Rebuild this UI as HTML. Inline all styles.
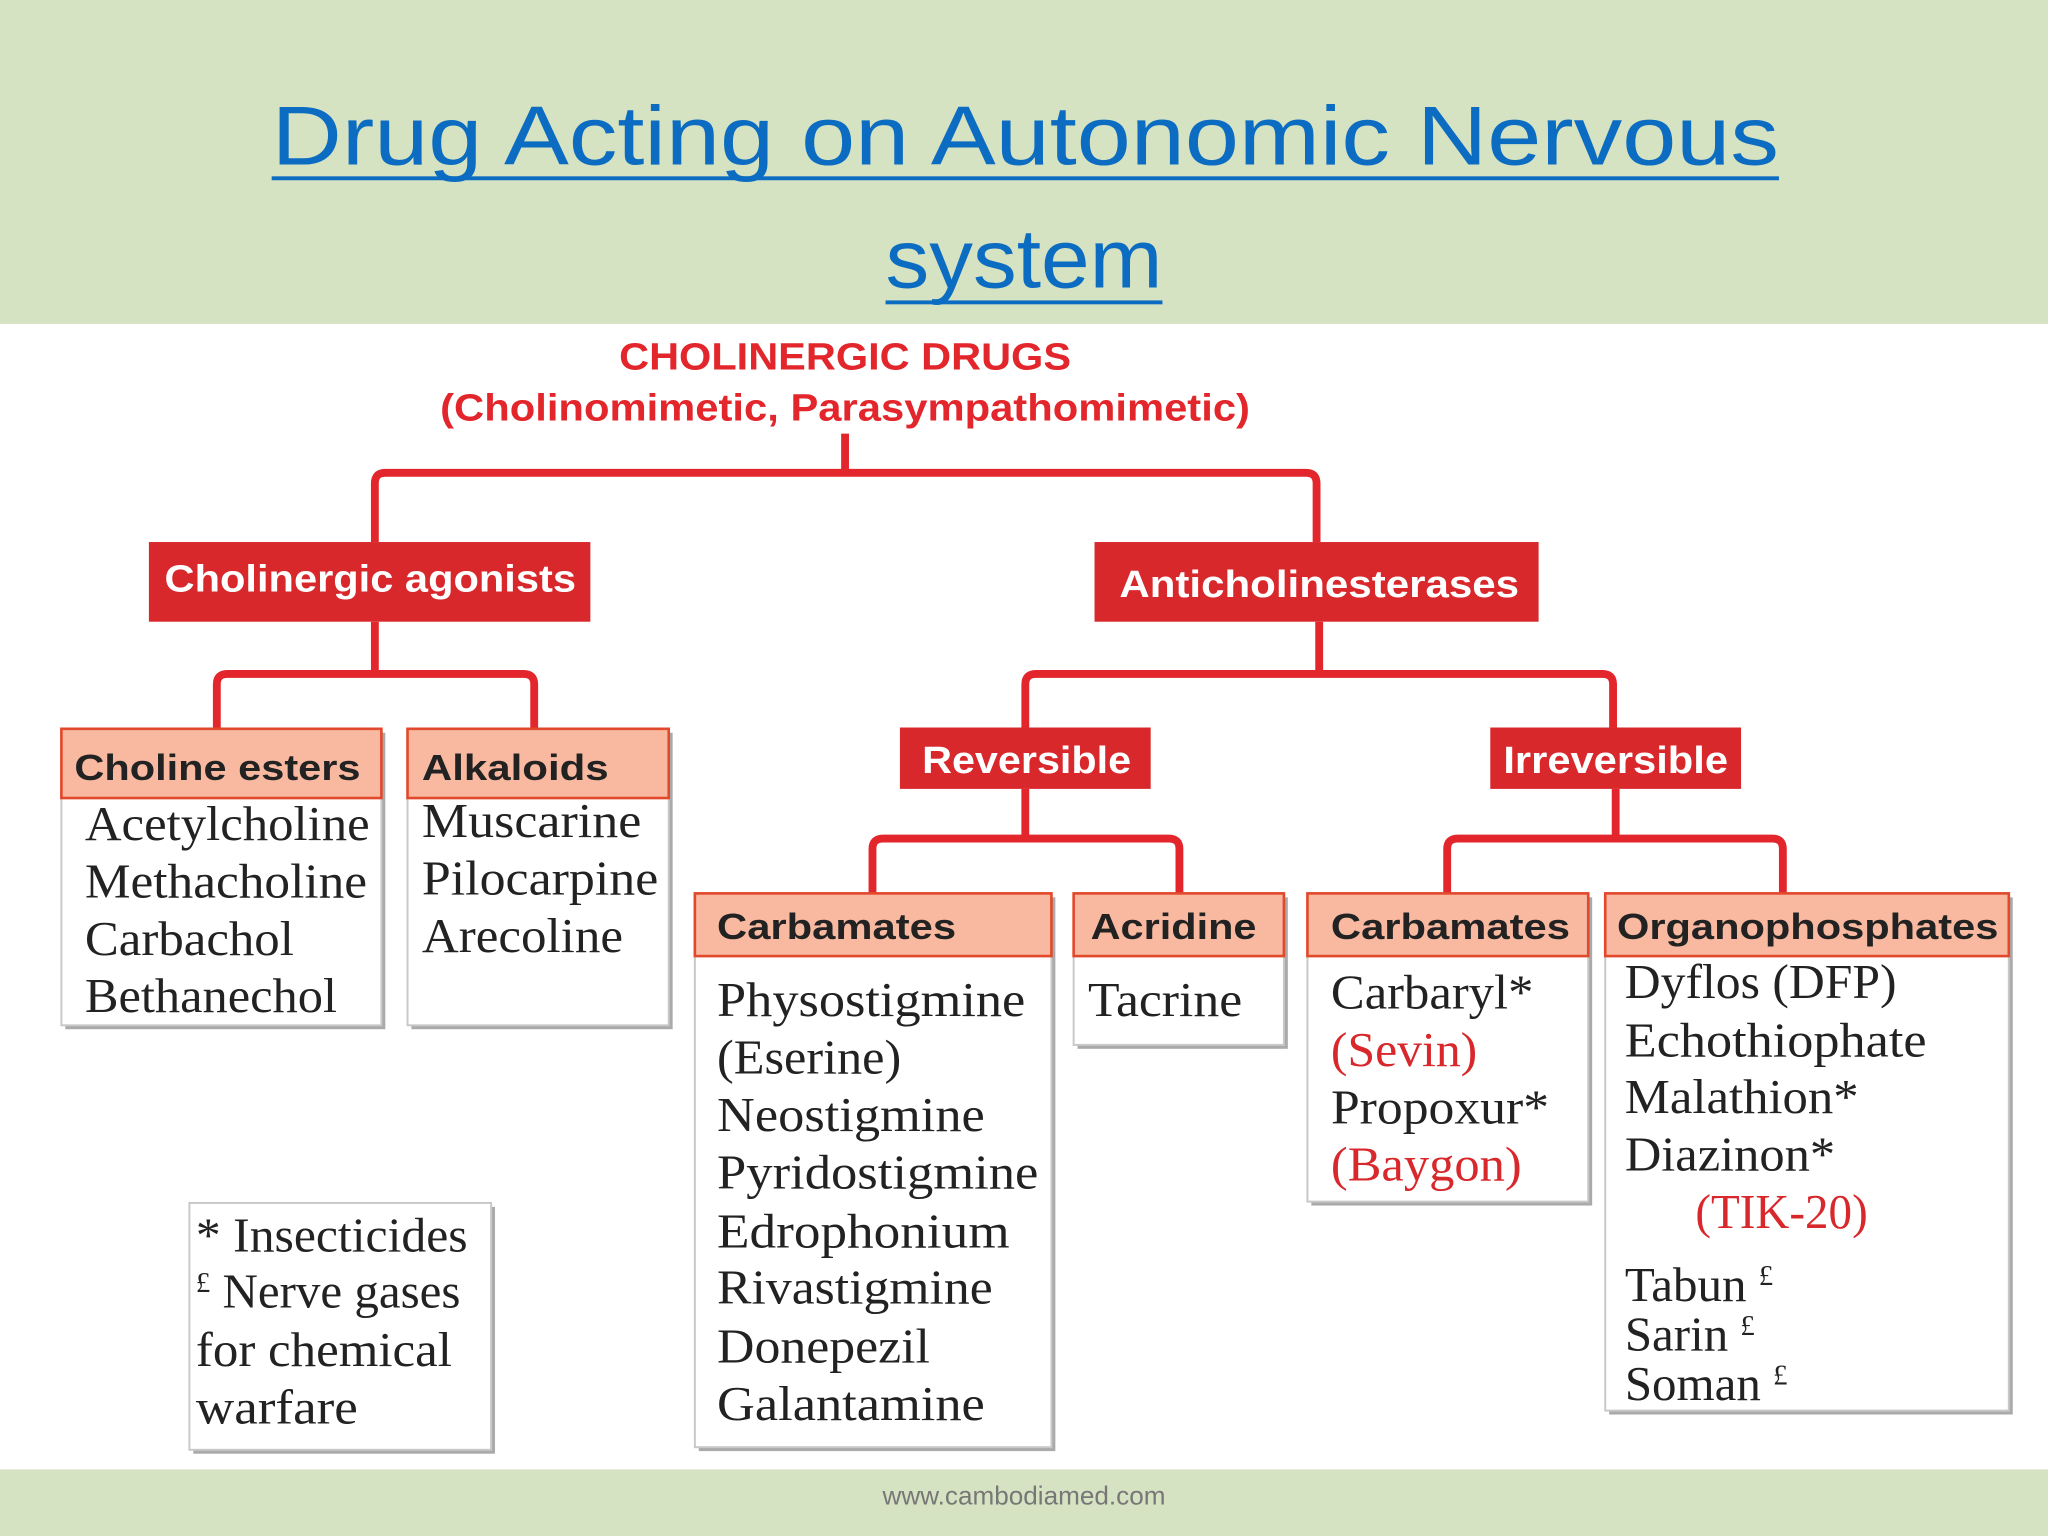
<!DOCTYPE html>
<html><head><meta charset="utf-8"><style>
html,body{margin:0;padding:0;background:#fff}
svg{display:block}
.s{font-family:"Liberation Serif",serif;font-size:37.5px;fill:#222}
.h{font-family:"Liberation Sans",sans-serif;font-weight:bold;font-size:28px;fill:#222}
.w{font-family:"Liberation Sans",sans-serif;font-weight:bold;font-size:29px;fill:#fff}
.r{fill:#d8282c}
</style></head><body>
<svg width="2048" height="1536" viewBox="0 0 1568 1176" xmlns="http://www.w3.org/2000/svg">
<rect width="1568" height="1176" fill="#fff"/>
<rect width="1568" height="248" fill="#d6e3c2"/>
<rect y="1125" width="1568" height="51" fill="#d6e3c2"/>
<g font-family="Liberation Sans, sans-serif" fill="#0b6cc2" font-size="64">
<text x="208" y="126" textLength="1154" lengthAdjust="spacingAndGlyphs">Drug Acting on Autonomic Nervous</text>
<text x="678" y="220" textLength="212" lengthAdjust="spacingAndGlyphs">system</text>
</g>
<rect x="208" y="135" width="1154" height="3" fill="#0b6cc2"/>
<rect x="678" y="230" width="212" height="3" fill="#0b6cc2"/>
<text x="784" y="1152" text-anchor="middle" font-family="Liberation Sans, sans-serif" font-size="20" fill="#777">www.cambodiamed.com</text>

<g font-family="Liberation Sans, sans-serif" font-weight="bold" fill="#e2262b" font-size="29">
<text x="647" y="283" text-anchor="middle" textLength="346" lengthAdjust="spacingAndGlyphs">CHOLINERGIC DRUGS</text>
<text x="647" y="322" text-anchor="middle" textLength="620" lengthAdjust="spacingAndGlyphs">(Cholinomimetic, Parasympathomimetic)</text>
</g>

<g fill="none" stroke="#e2262b" stroke-width="6" stroke-linejoin="round">
<path d="M647 332V362"/>
<path d="M287 415V370Q287 362 295 362H1000Q1008 362 1008 370V415"/>
<path d="M287 476V516"/>
<path d="M166 558V524Q166 516 174 516H401Q409 516 409 524V558"/>
<path d="M1010 476V516"/>
<path d="M785 557V524Q785 516 793 516H1227Q1235 516 1235 524V557"/>
<path d="M785 604V642"/>
<path d="M668 684V650Q668 642 676 642H895Q903 642 903 650V684"/>
<path d="M1237 604V642"/>
<path d="M1108 684V650Q1108 642 1116 642H1357Q1365 642 1365 650V684"/>
</g>

<rect x="114" y="415" width="338" height="61" class="r"/>
<text x="126" y="453" class="w" textLength="315" lengthAdjust="spacingAndGlyphs">Cholinergic agonists</text>
<rect x="838" y="415" width="340" height="61" class="r"/>
<text x="857" y="457" class="w" textLength="306" lengthAdjust="spacingAndGlyphs">Anticholinesterases</text>
<rect x="689" y="557" width="192" height="47" class="r"/>
<text x="706" y="592" class="w" textLength="160" lengthAdjust="spacingAndGlyphs">Reversible</text>
<rect x="1141" y="557" width="192" height="47" class="r"/>
<text x="1151" y="592" class="w" textLength="172" lengthAdjust="spacingAndGlyphs">Irreversible</text>

<g fill="#aaa">
<rect x="50" y="561" width="245" height="227"/>
<rect x="315" y="561" width="200" height="227"/>
<rect x="535" y="687" width="273" height="424"/>
<rect x="825" y="687" width="161" height="116"/>
<rect x="1004" y="687" width="215" height="236"/>
<rect x="1232" y="687" width="309" height="396"/>
<rect x="148" y="924" width="231" height="189"/>
</g>
<g fill="#fff" stroke="#c8c8c8" stroke-width="1.5">
<rect x="47" y="558" width="245" height="227"/>
<rect x="312" y="558" width="200" height="227"/>
<rect x="532" y="684" width="273" height="424"/>
<rect x="822" y="684" width="161" height="116"/>
<rect x="1001" y="684" width="215" height="236"/>
<rect x="1229" y="684" width="309" height="396"/>
<rect x="145" y="921" width="231" height="189"/>
</g>
<g fill="#f8b9a0" stroke="#e2482b" stroke-width="2">
<rect x="47" y="558" width="245" height="53"/>
<rect x="312" y="558" width="200" height="53"/>
<rect x="532" y="684" width="273" height="48"/>
<rect x="822" y="684" width="161" height="48"/>
<rect x="1001" y="684" width="215" height="48"/>
<rect x="1229" y="684" width="309" height="48"/>
</g>

<text x="57" y="597" class="h" textLength="219" lengthAdjust="spacingAndGlyphs">Choline esters</text>
<text x="323" y="597" class="h" textLength="143" lengthAdjust="spacingAndGlyphs">Alkaloids</text>
<text x="549" y="719" class="h" textLength="183" lengthAdjust="spacingAndGlyphs">Carbamates</text>
<text x="835" y="719" class="h" textLength="127" lengthAdjust="spacingAndGlyphs">Acridine</text>
<text x="1019" y="719" class="h" textLength="183" lengthAdjust="spacingAndGlyphs">Carbamates</text>
<text x="1238" y="719" class="h" textLength="292" lengthAdjust="spacingAndGlyphs">Organophosphates</text>

<text x="65" y="643" class="s" textLength="218" lengthAdjust="spacingAndGlyphs">Acetylcholine</text>
<text x="65" y="687" class="s" textLength="216" lengthAdjust="spacingAndGlyphs">Methacholine</text>
<text x="65" y="731" class="s" textLength="160" lengthAdjust="spacingAndGlyphs">Carbachol</text>
<text x="65" y="775" class="s" textLength="193" lengthAdjust="spacingAndGlyphs">Bethanechol</text>
<text x="323" y="641" class="s" textLength="168" lengthAdjust="spacingAndGlyphs">Muscarine</text>
<text x="323" y="685" class="s" textLength="181" lengthAdjust="spacingAndGlyphs">Pilocarpine</text>
<text x="323" y="729" class="s" textLength="154" lengthAdjust="spacingAndGlyphs">Arecoline</text>
<text x="549" y="778" class="s" textLength="236" lengthAdjust="spacingAndGlyphs">Physostigmine</text>
<text x="549" y="822" class="s" textLength="141" lengthAdjust="spacingAndGlyphs">(Eserine)</text>
<text x="549" y="866" class="s" textLength="205" lengthAdjust="spacingAndGlyphs">Neostigmine</text>
<text x="549" y="910" class="s" textLength="246" lengthAdjust="spacingAndGlyphs">Pyridostigmine</text>
<text x="549" y="955" class="s" textLength="224" lengthAdjust="spacingAndGlyphs">Edrophonium</text>
<text x="549" y="998" class="s" textLength="211" lengthAdjust="spacingAndGlyphs">Rivastigmine</text>
<text x="549" y="1043" class="s" textLength="163" lengthAdjust="spacingAndGlyphs">Donepezil</text>
<text x="549" y="1087" class="s" textLength="205" lengthAdjust="spacingAndGlyphs">Galantamine</text>
<text x="833" y="778" class="s" textLength="118" lengthAdjust="spacingAndGlyphs">Tacrine</text>
<text x="1019" y="772" class="s" textLength="155" lengthAdjust="spacingAndGlyphs">Carbaryl*</text>
<text x="1019" y="816" class="s" style="fill:#d8282c" textLength="112" lengthAdjust="spacingAndGlyphs">(Sevin)</text>
<text x="1019" y="860" class="s" textLength="167" lengthAdjust="spacingAndGlyphs">Propoxur*</text>
<text x="1019" y="904" class="s" style="fill:#d8282c" textLength="146" lengthAdjust="spacingAndGlyphs">(Baygon)</text>
<text x="1244" y="764" class="s" textLength="208" lengthAdjust="spacingAndGlyphs">Dyflos (DFP)</text>
<text x="1244" y="809" class="s" textLength="231" lengthAdjust="spacingAndGlyphs">Echothiophate</text>
<text x="1244" y="852" class="s" textLength="179" lengthAdjust="spacingAndGlyphs">Malathion*</text>
<text x="1244" y="896" class="s" textLength="161" lengthAdjust="spacingAndGlyphs">Diazinon*</text>
<text x="1298" y="940" class="s" style="fill:#d8282c" textLength="132" lengthAdjust="spacingAndGlyphs">(TIK-20)</text>
<text x="1244" y="996" class="s">Tabun <tspan font-size="22" dy="-12">£</tspan></text>
<text x="1244" y="1034" class="s">Sarin <tspan font-size="22" dy="-12">£</tspan></text>
<text x="1244" y="1072" class="s">Soman <tspan font-size="22" dy="-12">£</tspan></text>
<text x="150" y="958" class="s" textLength="208" lengthAdjust="spacingAndGlyphs">* Insecticides</text>
<text x="150" y="1001" class="s"><tspan font-size="22" dy="-12">£</tspan><tspan dy="12"> Nerve gases</tspan></text>
<text x="150" y="1046" class="s" textLength="196" lengthAdjust="spacingAndGlyphs">for chemical</text>
<text x="150" y="1090" class="s" textLength="124" lengthAdjust="spacingAndGlyphs">warfare</text>
</svg>
</body></html>
